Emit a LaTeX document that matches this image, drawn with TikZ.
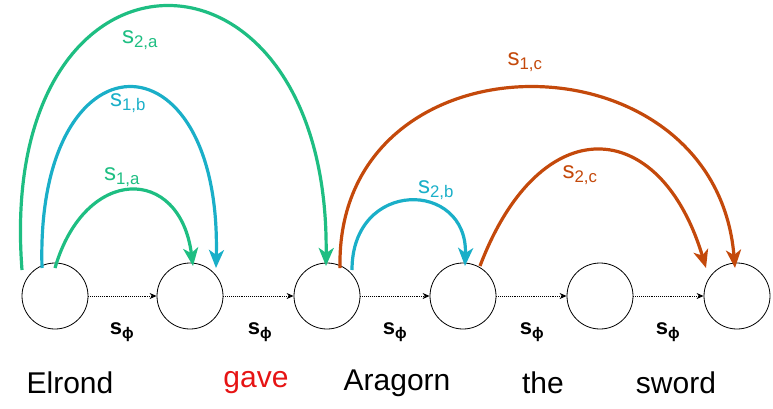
\documentclass[tikz,border=0pt]{standalone}
\usepackage{fontspec}
\setmainfont{Liberation Sans}
\usetikzlibrary{arrows.meta}
\definecolor{cg}{RGB}{30,190,130}
\definecolor{cc}{RGB}{26,175,200}
\definecolor{co}{RGB}{196,73,11}
\definecolor{cr}{RGB}{230,20,20}
\tikzset{
  tok/.style={circle,draw,minimum size=66pt,inner sep=0pt,line width=0.8pt},
  arc/.style={line width=3.2pt,-{Stealth[length=18pt,width=15pt,inset=5pt]}},
  seq/.style={densely dotted,line width=0.9pt,-{Stealth[length=7pt,width=6pt]}},
  lab/.style={font=\fontsize{24}{26}\selectfont},
  word/.style={font=\fontsize{30}{32}\selectfont},
  phi/.style={font=\bfseries\fontsize{22}{24}\selectfont}
}
\begin{document}
\begin{tikzpicture}[x=1pt,y=-1pt]
\useasboundingbox (0,0) rectangle (773,408);
\foreach \i/\x in {1/55,2/190,3/327,4/463,5/600,6/737}{\node[tok] (n\i) at (\x,296) {};}
\foreach \a/\b in {1/2,2/3,3/4,4/5,5/6}{\draw[seq] (n\a) -- (n\b);}
\foreach \x in {122,260,395,532,668}{\node[phi] at (\x,332) {s\textsubscript{ϕ}};}
\node[word] (w1) at (70,383) {Elrond};
\node[word,text=cr] (w2) at (256,383) {gave};
\node[word] (w3) at (397,383) {Aragorn};
\node[word] (w4) at (543,383) {the};
\node[word] (w5) at (676,383) {sword};
\coordinate (a1) at (22,270); \coordinate (a2) at (326,266);
\draw[arc,cg] (a1) .. controls (-5,-80) and (330,-80) .. (a2);
\coordinate (b1) at (42,268); \coordinate (b2) at (216,268);
\draw[arc,cc] (b1) .. controls (35,28) and (222,28) .. (b2);
\coordinate (c1) at (55,268); \coordinate (c2) at (193,266);
\draw[arc,cg] (c1) .. controls (85,165) and (180,165) .. (c2);
\coordinate (d1) at (340,268); \coordinate (d2) at (735,268);
\draw[arc,co] (d1) .. controls (335,28) and (715,28) .. (d2);
\coordinate (e1) at (352,270); \coordinate (e2) at (465,266);
\draw[arc,cc] (e1) .. controls (352,178) and (468,180) .. (e2);
\coordinate (f1) at (480,266); \coordinate (f2) at (706,268);
\draw[arc,co] (f1) .. controls (540,108) and (660,115) .. (f2);
\node[lab,text=cg] at (140,40) {s\textsubscript{2,a}};
\node[lab,text=cc] at (128,103) {s\textsubscript{1,b}};
\node[lab,text=cg] at (122,177) {s\textsubscript{1,a}};
\node[lab,text=co] at (525,62) {s\textsubscript{1,c}};
\node[lab,text=cc] at (436,190) {s\textsubscript{2,b}};
\node[lab,text=co] at (580,175) {s\textsubscript{2,c}};
\end{tikzpicture}
\end{document}
